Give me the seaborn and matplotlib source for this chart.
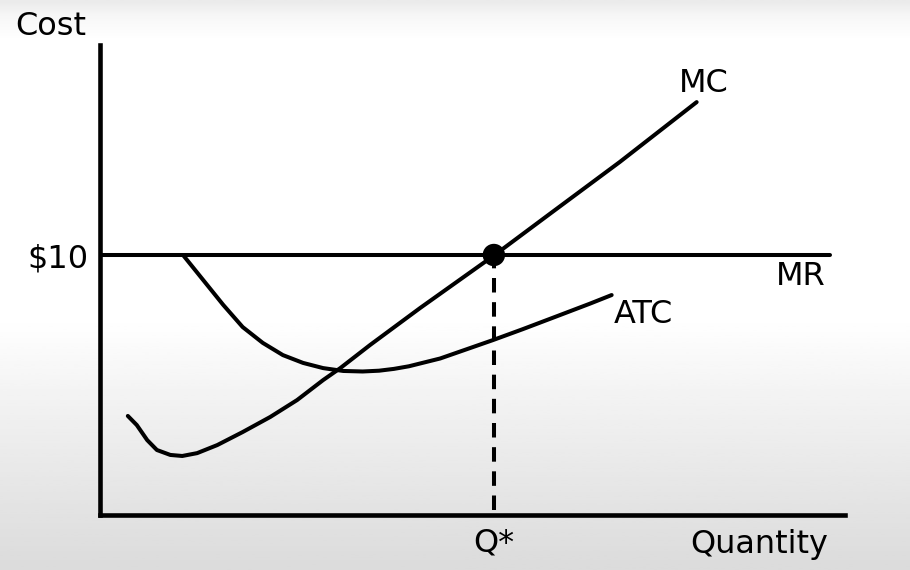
import numpy as np
import pandas as pd
import matplotlib
matplotlib.use("Agg")
import matplotlib.pyplot as plt
import seaborn as sns

# data (quantity units, cost units)
mc_q = [0.38, 0.50, 0.64, 0.77, 0.95, 1.11, 1.31, 1.58, 1.92, 2.29, 2.65, 3.00,
        3.23, 3.63, 4.30, 5.30, 6.04, 6.98, 8.01]
mc_c = [3.81, 3.46, 2.88, 2.50, 2.31, 2.27, 2.38, 2.69, 3.19, 3.77, 4.42, 5.19,
        5.65, 6.54, 7.96, 10.0, 11.58, 13.58, 15.88]

atc_q = [1.12, 1.39, 1.66, 1.92, 2.19, 2.46, 2.73, 3.00, 3.27, 3.53, 3.75, 3.95,
         4.15, 4.57, 5.01, 5.28, 5.68, 6.14, 6.58, 6.87]
atc_c = [10.0, 9.04, 8.08, 7.23, 6.62, 6.15, 5.85, 5.65, 5.54, 5.52, 5.55, 5.62,
         5.72, 6.02, 6.46, 6.73, 7.15, 7.65, 8.13, 8.46]

mr_q = [0.0, 9.80]
mr_c = [10.0, 10.0]

price = 10.0
q_star = 5.29

mc_df = pd.DataFrame({"q": mc_q, "cost": mc_c})
atc_df = pd.DataFrame({"q": atc_q, "cost": atc_c})
mr_df = pd.DataFrame({"q": mr_q, "cost": mr_c})

sns.set_style("white")
plt.rcParams["font.family"] = ["DejaVu Sans"]
plt.rcParams["text.color"] = "black"
plt.rcParams["xtick.color"] = "black"
plt.rcParams["ytick.color"] = "black"

fig = plt.figure(figsize=(9.1, 5.7), dpi=100)

# soft grey background gradient like the screenshot
bg = fig.add_axes([0, 0, 1, 1], zorder=0)
rows = np.linspace(0, 570, 200)
shade = np.interp(rows, [0, 15, 40, 320, 400, 520, 570], [0.92, 0.97, 1.0, 1.0, 0.95, 0.885, 0.86])
bg.imshow(shade[:, None], cmap="gray", vmin=0, vmax=1, aspect="auto", extent=[0, 1, 0, 1])
bg.axis("off")

ax = fig.add_axes([99.5 / 910, 55 / 570, 745.5 / 910, 470 / 570], zorder=1)
ax.patch.set_alpha(0)

black = "#000000"
lw = 2.9
sns.lineplot(data=mr_df, x="q", y="cost", ax=ax, color=black, lw=lw, sort=False)
sns.lineplot(data=mc_df, x="q", y="cost", ax=ax, color=black, lw=lw, sort=False)
sns.lineplot(data=atc_df, x="q", y="cost", ax=ax, color=black, lw=lw, sort=False)
ax.plot([q_star, q_star], [0.2, price], color=black, lw=lw, dashes=(3.6, 2.4))
sns.scatterplot(x=[q_star], y=[price], ax=ax, color=black, s=260, zorder=5, edgecolor="none")

ax.set_xlim(0, 10)
ax.set_ylim(0, 470 / 26)

for side in ["top", "right"]:
    ax.spines[side].set_visible(False)
for side in ["left", "bottom"]:
    ax.spines[side].set_linewidth(3.3)
    ax.spines[side].set_color(black)

fs = 23
ax.set_yticks([price])
ax.set_yticklabels(["$10"])
ax.set_xticks([q_star])
ax.set_xticklabels(["Q*"])
ax.tick_params(axis="y", length=0, pad=8, labelsize=fs)
ax.tick_params(axis="x", length=0, pad=9, labelsize=fs)
ax.set_xlabel("")
ax.set_ylabel("")

ax.text(-1.13, 18.77, "Cost", ha="left", va="center", fontsize=fs)
ax.text(8.11, 16.58, "MC", ha="center", va="center", fontsize=fs)
ax.text(9.41, 9.19, "MR", ha="center", va="center", fontsize=fs)
ax.text(7.30, 7.73, "ATC", ha="center", va="center", fontsize=fs)
ax.text(8.85, -1.15, "Quantity", ha="center", va="center", fontsize=fs)

fig.savefig("out.png", dpi=100)
